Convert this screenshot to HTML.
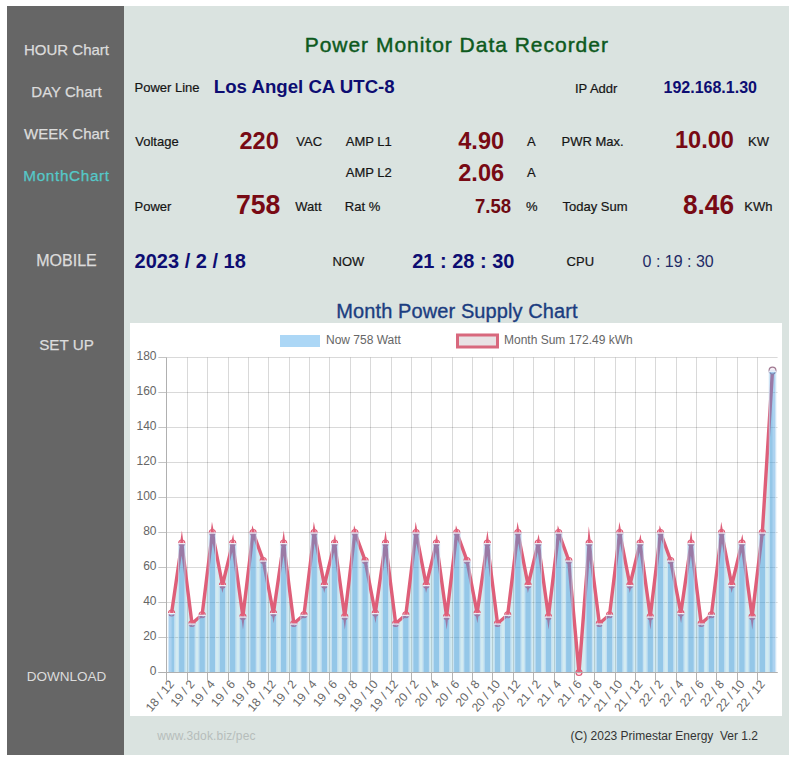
<!DOCTYPE html>
<html><head><meta charset="utf-8"><title>Power Monitor Data Recorder</title>
<style>
html,body{margin:0;padding:0;background:#fff;}
body{width:794px;height:762px;position:relative;overflow:hidden;font-family:"Liberation Sans", sans-serif;}
.t{position:absolute;white-space:pre;line-height:1;}
#side{position:absolute;left:7px;top:6px;width:117px;height:749px;background:#666;}
#main{position:absolute;left:124px;top:6px;width:665px;height:749px;background:#dae3e0;}
#side .t{}
</style></head><body>
<div id="side">
<span class="t" style="left:-240.5px;width:600px;text-align:center;top:35.80px;font-size:15px;color:#dcdcdc;-webkit-text-stroke:0.25px #dcdcdc;">HOUR Chart</span><span class="t" style="left:-240.5px;width:600px;text-align:center;top:78.40px;font-size:15px;color:#dcdcdc;-webkit-text-stroke:0.25px #dcdcdc;">DAY Chart</span><span class="t" style="left:-240.5px;width:600px;text-align:center;top:120.40px;font-size:15px;color:#dcdcdc;-webkit-text-stroke:0.25px #dcdcdc;">WEEK Chart</span><span class="t" style="left:-240.5px;width:600px;text-align:center;top:161.85px;font-size:15.3px;color:#55c9c9;letter-spacing:0.65px;-webkit-text-stroke:0.25px #55c9c9;">MonthChart</span><span class="t" style="left:-240.5px;width:600px;text-align:center;top:246.66px;font-size:16px;color:#dcdcdc;-webkit-text-stroke:0.25px #dcdcdc;">MOBILE</span><span class="t" style="left:-240.5px;width:600px;text-align:center;top:330.63px;font-size:15.2px;color:#dcdcdc;letter-spacing:0.0px;-webkit-text-stroke:0.25px #dcdcdc;">SET UP</span><span class="t" style="left:-240.5px;width:600px;text-align:center;top:663.57px;font-size:13.5px;color:#dcdcdc;">DOWNLOAD</span>
</div>
<div id="main">
<span class="t" style="left:32.8px;width:600px;text-align:center;top:28.32px;font-size:21px;color:#0d5a1d;letter-spacing:0.98px;-webkit-text-stroke:0.45px #0d5a1d;">Power Monitor Data Recorder</span><span class="t" style="left:10.5px;top:75.20px;font-size:13px;color:#151515;-webkit-text-stroke:0.2px #151515;">Power Line</span><span class="t" style="left:89.8px;top:71.81px;font-size:18.65px;color:#0d0d72;font-weight:bold;">Los Angel CA UTC-8</span><span class="t" style="left:451.0px;top:76.20px;font-size:13px;color:#151515;-webkit-text-stroke:0.2px #151515;">IP Addr</span><span class="t" style="left:539.5px;top:74.16px;font-size:16px;color:#0d0d72;font-weight:bold;">192.168.1.30</span><span class="t" style="left:11.3px;top:129.10px;font-size:13px;color:#151515;-webkit-text-stroke:0.2px #151515;">Voltage</span><span class="t" style="left:115.5px;top:123.51px;font-size:23.5px;color:#780a14;font-weight:bold;">220</span><span class="t" style="left:172.3px;top:129.10px;font-size:13px;color:#151515;-webkit-text-stroke:0.2px #151515;">VAC</span><span class="t" style="left:221.8px;top:129.10px;font-size:13px;color:#151515;-webkit-text-stroke:0.2px #151515;">AMP L1</span><span class="t" style="left:334.3px;top:123.51px;font-size:23.5px;color:#780a14;font-weight:bold;">4.90</span><span class="t" style="left:403.0px;top:129.10px;font-size:13px;color:#151515;-webkit-text-stroke:0.2px #151515;">A</span><span class="t" style="left:437.5px;top:129.00px;font-size:13px;color:#151515;-webkit-text-stroke:0.2px #151515;">PWR Max.</span><span class="t" style="left:551.0px;top:123.11px;font-size:23.5px;color:#780a14;font-weight:bold;">10.00</span><span class="t" style="left:624.0px;top:129.10px;font-size:13px;color:#151515;-webkit-text-stroke:0.2px #151515;">KW</span><span class="t" style="left:221.8px;top:160.20px;font-size:13px;color:#151515;-webkit-text-stroke:0.2px #151515;">AMP L2</span><span class="t" style="left:334.3px;top:156.21px;font-size:23.5px;color:#780a14;font-weight:bold;">2.06</span><span class="t" style="left:403.0px;top:160.20px;font-size:13px;color:#151515;-webkit-text-stroke:0.2px #151515;">A</span><span class="t" style="left:10.5px;top:193.50px;font-size:13px;color:#151515;-webkit-text-stroke:0.2px #151515;">Power</span><span class="t" style="left:112.0px;top:185.30px;font-size:28px;color:#780a14;font-weight:bold;transform:scaleX(0.95);transform-origin:0 0;">758</span><span class="t" style="left:171.3px;top:193.50px;font-size:13px;color:#151515;-webkit-text-stroke:0.2px #151515;">Watt</span><span class="t" style="left:220.8px;top:193.50px;font-size:13px;color:#151515;-webkit-text-stroke:0.2px #151515;">Rat %</span><span class="t" style="left:351.2px;top:190.79px;font-size:19.5px;color:#6e0a12;font-weight:bold;transform:scaleX(0.95);transform-origin:0 0;">7.58</span><span class="t" style="left:402.0px;top:193.50px;font-size:13px;color:#151515;-webkit-text-stroke:0.2px #151515;">%</span><span class="t" style="left:438.5px;top:193.70px;font-size:13px;color:#151515;-webkit-text-stroke:0.2px #151515;">Today Sum</span><span class="t" style="left:559.3px;top:185.30px;font-size:28px;color:#780a14;font-weight:bold;transform:scaleX(0.935);transform-origin:0 0;">8.46</span><span class="t" style="left:620.3px;top:193.50px;font-size:13px;color:#151515;-webkit-text-stroke:0.2px #151515;">KWh</span><span class="t" style="left:10.6px;top:244.77px;font-size:20px;color:#0d0d72;font-weight:bold;">2023 / 2 / 18</span><span class="t" style="left:208.5px;top:248.80px;font-size:13px;color:#151515;-webkit-text-stroke:0.2px #151515;">NOW</span><span class="t" style="left:288.2px;top:245.07px;font-size:20px;color:#0d0d72;font-weight:bold;">21 : 28 : 30</span><span class="t" style="left:442.6px;top:248.90px;font-size:13px;color:#151515;-webkit-text-stroke:0.2px #151515;">CPU</span><span class="t" style="left:518.6px;top:247.76px;font-size:16px;color:#1f2b66;">0 : 19 : 30</span><span class="t" style="left:33.0px;width:600px;text-align:center;top:294.97px;font-size:20px;color:#1b3d80;letter-spacing:0.1px;-webkit-text-stroke:0.35px #1b3d80;">Month Power Supply Chart</span><span class="t" style="left:33.2px;top:723.84px;font-size:12px;color:#b6bdbb;letter-spacing:0.15px;">www.3dok.biz/pec</span><span class="t" style="left:446.6px;top:724.14px;font-size:12px;color:#333;">(C) 2023 Primestar Energy&nbsp; Ver 1.2</span>
<svg width="652" height="393" viewBox="0 0 652 393" style="position:absolute;left:6px;top:317px"><rect width="652" height="393" fill="#fff"/><line x1="28.5" y1="349.50" x2="647.6" y2="349.50" stroke="#c8c8c8" stroke-width="1"/><line x1="28.5" y1="314.50" x2="647.6" y2="314.50" stroke="rgba(0,0,0,0.15)" stroke-width="1"/><line x1="28.5" y1="279.50" x2="647.6" y2="279.50" stroke="rgba(0,0,0,0.15)" stroke-width="1"/><line x1="28.5" y1="244.50" x2="647.6" y2="244.50" stroke="rgba(0,0,0,0.15)" stroke-width="1"/><line x1="28.5" y1="209.50" x2="647.6" y2="209.50" stroke="rgba(0,0,0,0.15)" stroke-width="1"/><line x1="28.5" y1="174.50" x2="647.6" y2="174.50" stroke="rgba(0,0,0,0.15)" stroke-width="1"/><line x1="28.5" y1="139.50" x2="647.6" y2="139.50" stroke="rgba(0,0,0,0.15)" stroke-width="1"/><line x1="28.5" y1="104.50" x2="647.6" y2="104.50" stroke="rgba(0,0,0,0.15)" stroke-width="1"/><line x1="28.5" y1="69.50" x2="647.6" y2="69.50" stroke="rgba(0,0,0,0.15)" stroke-width="1"/><line x1="28.5" y1="34.50" x2="647.6" y2="34.50" stroke="rgba(0,0,0,0.15)" stroke-width="1"/><line x1="36.50" y1="34.5" x2="36.50" y2="357.5" stroke="#c8c8c8" stroke-width="1"/><line x1="57.50" y1="34.5" x2="57.50" y2="357.5" stroke="rgba(0,0,0,0.15)" stroke-width="1"/><line x1="77.50" y1="34.5" x2="77.50" y2="357.5" stroke="rgba(0,0,0,0.15)" stroke-width="1"/><line x1="98.50" y1="34.5" x2="98.50" y2="357.5" stroke="rgba(0,0,0,0.15)" stroke-width="1"/><line x1="118.50" y1="34.5" x2="118.50" y2="357.5" stroke="rgba(0,0,0,0.15)" stroke-width="1"/><line x1="138.50" y1="34.5" x2="138.50" y2="357.5" stroke="rgba(0,0,0,0.15)" stroke-width="1"/><line x1="159.50" y1="34.5" x2="159.50" y2="357.5" stroke="rgba(0,0,0,0.15)" stroke-width="1"/><line x1="179.50" y1="34.5" x2="179.50" y2="357.5" stroke="rgba(0,0,0,0.15)" stroke-width="1"/><line x1="199.50" y1="34.5" x2="199.50" y2="357.5" stroke="rgba(0,0,0,0.15)" stroke-width="1"/><line x1="220.50" y1="34.5" x2="220.50" y2="357.5" stroke="rgba(0,0,0,0.15)" stroke-width="1"/><line x1="240.50" y1="34.5" x2="240.50" y2="357.5" stroke="rgba(0,0,0,0.15)" stroke-width="1"/><line x1="261.50" y1="34.5" x2="261.50" y2="357.5" stroke="rgba(0,0,0,0.15)" stroke-width="1"/><line x1="281.50" y1="34.5" x2="281.50" y2="357.5" stroke="rgba(0,0,0,0.15)" stroke-width="1"/><line x1="301.50" y1="34.5" x2="301.50" y2="357.5" stroke="rgba(0,0,0,0.15)" stroke-width="1"/><line x1="322.50" y1="34.5" x2="322.50" y2="357.5" stroke="rgba(0,0,0,0.15)" stroke-width="1"/><line x1="342.50" y1="34.5" x2="342.50" y2="357.5" stroke="rgba(0,0,0,0.15)" stroke-width="1"/><line x1="362.50" y1="34.5" x2="362.50" y2="357.5" stroke="rgba(0,0,0,0.15)" stroke-width="1"/><line x1="383.50" y1="34.5" x2="383.50" y2="357.5" stroke="rgba(0,0,0,0.15)" stroke-width="1"/><line x1="403.50" y1="34.5" x2="403.50" y2="357.5" stroke="rgba(0,0,0,0.15)" stroke-width="1"/><line x1="424.50" y1="34.5" x2="424.50" y2="357.5" stroke="rgba(0,0,0,0.15)" stroke-width="1"/><line x1="444.50" y1="34.5" x2="444.50" y2="357.5" stroke="rgba(0,0,0,0.15)" stroke-width="1"/><line x1="464.50" y1="34.5" x2="464.50" y2="357.5" stroke="rgba(0,0,0,0.15)" stroke-width="1"/><line x1="485.50" y1="34.5" x2="485.50" y2="357.5" stroke="rgba(0,0,0,0.15)" stroke-width="1"/><line x1="505.50" y1="34.5" x2="505.50" y2="357.5" stroke="rgba(0,0,0,0.15)" stroke-width="1"/><line x1="525.50" y1="34.5" x2="525.50" y2="357.5" stroke="rgba(0,0,0,0.15)" stroke-width="1"/><line x1="546.50" y1="34.5" x2="546.50" y2="357.5" stroke="rgba(0,0,0,0.15)" stroke-width="1"/><line x1="566.50" y1="34.5" x2="566.50" y2="357.5" stroke="rgba(0,0,0,0.15)" stroke-width="1"/><line x1="586.50" y1="34.5" x2="586.50" y2="357.5" stroke="rgba(0,0,0,0.15)" stroke-width="1"/><line x1="607.50" y1="34.5" x2="607.50" y2="357.5" stroke="rgba(0,0,0,0.15)" stroke-width="1"/><line x1="627.50" y1="34.5" x2="627.50" y2="357.5" stroke="rgba(0,0,0,0.15)" stroke-width="1"/><line x1="36.50" y1="349.5" x2="36.50" y2="357.5" stroke="#b4b4b4" stroke-width="1"/><line x1="57.50" y1="349.5" x2="57.50" y2="357.5" stroke="#b4b4b4" stroke-width="1"/><line x1="77.50" y1="349.5" x2="77.50" y2="357.5" stroke="#b4b4b4" stroke-width="1"/><line x1="98.50" y1="349.5" x2="98.50" y2="357.5" stroke="#b4b4b4" stroke-width="1"/><line x1="118.50" y1="349.5" x2="118.50" y2="357.5" stroke="#b4b4b4" stroke-width="1"/><line x1="138.50" y1="349.5" x2="138.50" y2="357.5" stroke="#b4b4b4" stroke-width="1"/><line x1="159.50" y1="349.5" x2="159.50" y2="357.5" stroke="#b4b4b4" stroke-width="1"/><line x1="179.50" y1="349.5" x2="179.50" y2="357.5" stroke="#b4b4b4" stroke-width="1"/><line x1="199.50" y1="349.5" x2="199.50" y2="357.5" stroke="#b4b4b4" stroke-width="1"/><line x1="220.50" y1="349.5" x2="220.50" y2="357.5" stroke="#b4b4b4" stroke-width="1"/><line x1="240.50" y1="349.5" x2="240.50" y2="357.5" stroke="#b4b4b4" stroke-width="1"/><line x1="261.50" y1="349.5" x2="261.50" y2="357.5" stroke="#b4b4b4" stroke-width="1"/><line x1="281.50" y1="349.5" x2="281.50" y2="357.5" stroke="#b4b4b4" stroke-width="1"/><line x1="301.50" y1="349.5" x2="301.50" y2="357.5" stroke="#b4b4b4" stroke-width="1"/><line x1="322.50" y1="349.5" x2="322.50" y2="357.5" stroke="#b4b4b4" stroke-width="1"/><line x1="342.50" y1="349.5" x2="342.50" y2="357.5" stroke="#b4b4b4" stroke-width="1"/><line x1="362.50" y1="349.5" x2="362.50" y2="357.5" stroke="#b4b4b4" stroke-width="1"/><line x1="383.50" y1="349.5" x2="383.50" y2="357.5" stroke="#b4b4b4" stroke-width="1"/><line x1="403.50" y1="349.5" x2="403.50" y2="357.5" stroke="#b4b4b4" stroke-width="1"/><line x1="424.50" y1="349.5" x2="424.50" y2="357.5" stroke="#b4b4b4" stroke-width="1"/><line x1="444.50" y1="349.5" x2="444.50" y2="357.5" stroke="#b4b4b4" stroke-width="1"/><line x1="464.50" y1="349.5" x2="464.50" y2="357.5" stroke="#b4b4b4" stroke-width="1"/><line x1="485.50" y1="349.5" x2="485.50" y2="357.5" stroke="#b4b4b4" stroke-width="1"/><line x1="505.50" y1="349.5" x2="505.50" y2="357.5" stroke="#b4b4b4" stroke-width="1"/><line x1="525.50" y1="349.5" x2="525.50" y2="357.5" stroke="#b4b4b4" stroke-width="1"/><line x1="546.50" y1="349.5" x2="546.50" y2="357.5" stroke="#b4b4b4" stroke-width="1"/><line x1="566.50" y1="349.5" x2="566.50" y2="357.5" stroke="#b4b4b4" stroke-width="1"/><line x1="586.50" y1="349.5" x2="586.50" y2="357.5" stroke="#b4b4b4" stroke-width="1"/><line x1="607.50" y1="349.5" x2="607.50" y2="357.5" stroke="#b4b4b4" stroke-width="1"/><line x1="627.50" y1="349.5" x2="627.50" y2="357.5" stroke="#b4b4b4" stroke-width="1"/><line x1="28.5" y1="349.50" x2="36.5" y2="349.50" stroke="#c4c4c4" stroke-width="1"/><line x1="28.5" y1="314.50" x2="36.5" y2="314.50" stroke="#c4c4c4" stroke-width="1"/><line x1="28.5" y1="279.50" x2="36.5" y2="279.50" stroke="#c4c4c4" stroke-width="1"/><line x1="28.5" y1="244.50" x2="36.5" y2="244.50" stroke="#c4c4c4" stroke-width="1"/><line x1="28.5" y1="209.50" x2="36.5" y2="209.50" stroke="#c4c4c4" stroke-width="1"/><line x1="28.5" y1="174.50" x2="36.5" y2="174.50" stroke="#c4c4c4" stroke-width="1"/><line x1="28.5" y1="139.50" x2="36.5" y2="139.50" stroke="#c4c4c4" stroke-width="1"/><line x1="28.5" y1="104.50" x2="36.5" y2="104.50" stroke="#c4c4c4" stroke-width="1"/><line x1="28.5" y1="69.50" x2="36.5" y2="69.50" stroke="#c4c4c4" stroke-width="1"/><line x1="28.5" y1="34.50" x2="36.5" y2="34.50" stroke="#c4c4c4" stroke-width="1"/><text x="26.5" y="351.90" text-anchor="end" font-family='"Liberation Sans", sans-serif' font-size="12" fill="#666">0</text><text x="26.5" y="316.90" text-anchor="end" font-family='"Liberation Sans", sans-serif' font-size="12" fill="#666">20</text><text x="26.5" y="281.90" text-anchor="end" font-family='"Liberation Sans", sans-serif' font-size="12" fill="#666">40</text><text x="26.5" y="246.90" text-anchor="end" font-family='"Liberation Sans", sans-serif' font-size="12" fill="#666">60</text><text x="26.5" y="211.90" text-anchor="end" font-family='"Liberation Sans", sans-serif' font-size="12" fill="#666">80</text><text x="26.5" y="176.90" text-anchor="end" font-family='"Liberation Sans", sans-serif' font-size="12" fill="#666">100</text><text x="26.5" y="141.90" text-anchor="end" font-family='"Liberation Sans", sans-serif' font-size="12" fill="#666">120</text><text x="26.5" y="106.90" text-anchor="end" font-family='"Liberation Sans", sans-serif' font-size="12" fill="#666">140</text><text x="26.5" y="71.90" text-anchor="end" font-family='"Liberation Sans", sans-serif' font-size="12" fill="#666">160</text><text x="26.5" y="36.90" text-anchor="end" font-family='"Liberation Sans", sans-serif' font-size="12" fill="#666">180</text><text transform="translate(41.59,358.70) rotate(-50)" x="0" y="4.2" text-anchor="end" font-family='"Liberation Sans", sans-serif' font-size="12" fill="#666">18 / 12</text><text transform="translate(61.96,358.70) rotate(-50)" x="0" y="4.2" text-anchor="end" font-family='"Liberation Sans", sans-serif' font-size="12" fill="#666">19 / 2</text><text transform="translate(82.33,358.70) rotate(-50)" x="0" y="4.2" text-anchor="end" font-family='"Liberation Sans", sans-serif' font-size="12" fill="#666">19 / 4</text><text transform="translate(102.70,358.70) rotate(-50)" x="0" y="4.2" text-anchor="end" font-family='"Liberation Sans", sans-serif' font-size="12" fill="#666">19 / 6</text><text transform="translate(123.07,358.70) rotate(-50)" x="0" y="4.2" text-anchor="end" font-family='"Liberation Sans", sans-serif' font-size="12" fill="#666">19 / 8</text><text transform="translate(143.44,358.70) rotate(-50)" x="0" y="4.2" text-anchor="end" font-family='"Liberation Sans", sans-serif' font-size="12" fill="#666">18 / 12</text><text transform="translate(163.81,358.70) rotate(-50)" x="0" y="4.2" text-anchor="end" font-family='"Liberation Sans", sans-serif' font-size="12" fill="#666">19 / 2</text><text transform="translate(184.18,358.70) rotate(-50)" x="0" y="4.2" text-anchor="end" font-family='"Liberation Sans", sans-serif' font-size="12" fill="#666">19 / 4</text><text transform="translate(204.55,358.70) rotate(-50)" x="0" y="4.2" text-anchor="end" font-family='"Liberation Sans", sans-serif' font-size="12" fill="#666">19 / 6</text><text transform="translate(224.92,358.70) rotate(-50)" x="0" y="4.2" text-anchor="end" font-family='"Liberation Sans", sans-serif' font-size="12" fill="#666">19 / 8</text><text transform="translate(245.29,358.70) rotate(-50)" x="0" y="4.2" text-anchor="end" font-family='"Liberation Sans", sans-serif' font-size="12" fill="#666">19 / 10</text><text transform="translate(265.66,358.70) rotate(-50)" x="0" y="4.2" text-anchor="end" font-family='"Liberation Sans", sans-serif' font-size="12" fill="#666">19 / 12</text><text transform="translate(286.03,358.70) rotate(-50)" x="0" y="4.2" text-anchor="end" font-family='"Liberation Sans", sans-serif' font-size="12" fill="#666">20 / 2</text><text transform="translate(306.40,358.70) rotate(-50)" x="0" y="4.2" text-anchor="end" font-family='"Liberation Sans", sans-serif' font-size="12" fill="#666">20 / 4</text><text transform="translate(326.77,358.70) rotate(-50)" x="0" y="4.2" text-anchor="end" font-family='"Liberation Sans", sans-serif' font-size="12" fill="#666">20 / 6</text><text transform="translate(347.14,358.70) rotate(-50)" x="0" y="4.2" text-anchor="end" font-family='"Liberation Sans", sans-serif' font-size="12" fill="#666">20 / 8</text><text transform="translate(367.51,358.70) rotate(-50)" x="0" y="4.2" text-anchor="end" font-family='"Liberation Sans", sans-serif' font-size="12" fill="#666">20 / 10</text><text transform="translate(387.88,358.70) rotate(-50)" x="0" y="4.2" text-anchor="end" font-family='"Liberation Sans", sans-serif' font-size="12" fill="#666">20 / 12</text><text transform="translate(408.25,358.70) rotate(-50)" x="0" y="4.2" text-anchor="end" font-family='"Liberation Sans", sans-serif' font-size="12" fill="#666">21 / 2</text><text transform="translate(428.62,358.70) rotate(-50)" x="0" y="4.2" text-anchor="end" font-family='"Liberation Sans", sans-serif' font-size="12" fill="#666">21 / 4</text><text transform="translate(448.99,358.70) rotate(-50)" x="0" y="4.2" text-anchor="end" font-family='"Liberation Sans", sans-serif' font-size="12" fill="#666">21 / 6</text><text transform="translate(469.36,358.70) rotate(-50)" x="0" y="4.2" text-anchor="end" font-family='"Liberation Sans", sans-serif' font-size="12" fill="#666">21 / 8</text><text transform="translate(489.73,358.70) rotate(-50)" x="0" y="4.2" text-anchor="end" font-family='"Liberation Sans", sans-serif' font-size="12" fill="#666">21 / 10</text><text transform="translate(510.10,358.70) rotate(-50)" x="0" y="4.2" text-anchor="end" font-family='"Liberation Sans", sans-serif' font-size="12" fill="#666">21 / 12</text><text transform="translate(530.47,358.70) rotate(-50)" x="0" y="4.2" text-anchor="end" font-family='"Liberation Sans", sans-serif' font-size="12" fill="#666">22 / 2</text><text transform="translate(550.84,358.70) rotate(-50)" x="0" y="4.2" text-anchor="end" font-family='"Liberation Sans", sans-serif' font-size="12" fill="#666">22 / 4</text><text transform="translate(571.21,358.70) rotate(-50)" x="0" y="4.2" text-anchor="end" font-family='"Liberation Sans", sans-serif' font-size="12" fill="#666">22 / 6</text><text transform="translate(591.58,358.70) rotate(-50)" x="0" y="4.2" text-anchor="end" font-family='"Liberation Sans", sans-serif' font-size="12" fill="#666">22 / 8</text><text transform="translate(611.95,358.70) rotate(-50)" x="0" y="4.2" text-anchor="end" font-family='"Liberation Sans", sans-serif' font-size="12" fill="#666">22 / 10</text><text transform="translate(632.32,358.70) rotate(-50)" x="0" y="4.2" text-anchor="end" font-family='"Liberation Sans", sans-serif' font-size="12" fill="#666">22 / 12</text><polygon points="41.59,349.50 41.59,290.00 51.78,220.00 61.96,300.50 72.15,291.75 82.33,209.50 92.52,262.00 102.70,220.00 112.89,293.50 123.07,209.50 133.26,237.50 143.44,290.00 153.63,220.00 163.81,300.50 174.00,291.75 184.18,209.50 194.37,262.00 204.55,220.00 214.74,293.50 224.92,209.50 235.11,237.50 245.29,290.00 255.48,220.00 265.66,300.50 275.85,291.75 286.03,209.50 296.22,262.00 306.40,220.00 316.59,293.50 326.77,209.50 336.96,237.50 347.14,290.00 357.33,220.00 367.51,300.50 377.70,291.75 387.88,209.50 398.07,262.00 408.25,220.00 418.44,293.50 428.62,209.50 438.81,237.50 448.99,349.50 459.18,220.00 469.36,300.50 479.55,291.75 489.73,209.50 499.92,262.00 510.10,220.00 520.29,293.50 530.47,209.50 540.66,237.50 550.84,290.00 561.03,220.00 571.21,300.50 581.40,291.75 591.58,209.50 601.77,262.00 611.95,220.00 622.14,293.50 632.32,209.50 642.51,47.62 642.51,349.50" fill="rgba(35,155,185,0.2)"/><polyline points="41.59,290.00 51.78,220.00 61.96,300.50 72.15,291.75 82.33,209.50 92.52,262.00 102.70,220.00 112.89,293.50 123.07,209.50 133.26,237.50 143.44,290.00 153.63,220.00 163.81,300.50 174.00,291.75 184.18,209.50 194.37,262.00 204.55,220.00 214.74,293.50 224.92,209.50 235.11,237.50 245.29,290.00 255.48,220.00 265.66,300.50 275.85,291.75 286.03,209.50 296.22,262.00 306.40,220.00 316.59,293.50 326.77,209.50 336.96,237.50 347.14,290.00 357.33,220.00 367.51,300.50 377.70,291.75 387.88,209.50 398.07,262.00 408.25,220.00 418.44,293.50 428.62,209.50 438.81,237.50 448.99,349.50 459.18,220.00 469.36,300.50 479.55,291.75 489.73,209.50 499.92,262.00 510.10,220.00 520.29,293.50 530.47,209.50 540.66,237.50 550.84,290.00 561.03,220.00 571.21,300.50 581.40,291.75 591.58,209.50 601.77,262.00 611.95,220.00 622.14,293.50 632.32,209.50 642.51,47.62" fill="none" stroke="#de5f79" stroke-width="3.4" stroke-linejoin="miter" stroke-miterlimit="10"/><circle cx="41.59" cy="290.00" r="3" fill="rgba(255,99,132,0.2)" stroke="#de5f79" stroke-width="1.2"/><circle cx="51.78" cy="220.00" r="3" fill="rgba(255,99,132,0.2)" stroke="#de5f79" stroke-width="1.2"/><circle cx="61.96" cy="300.50" r="3" fill="rgba(255,99,132,0.2)" stroke="#de5f79" stroke-width="1.2"/><circle cx="72.15" cy="291.75" r="3" fill="rgba(255,99,132,0.2)" stroke="#de5f79" stroke-width="1.2"/><circle cx="82.33" cy="209.50" r="3" fill="rgba(255,99,132,0.2)" stroke="#de5f79" stroke-width="1.2"/><circle cx="92.52" cy="262.00" r="3" fill="rgba(255,99,132,0.2)" stroke="#de5f79" stroke-width="1.2"/><circle cx="102.70" cy="220.00" r="3" fill="rgba(255,99,132,0.2)" stroke="#de5f79" stroke-width="1.2"/><circle cx="112.89" cy="293.50" r="3" fill="rgba(255,99,132,0.2)" stroke="#de5f79" stroke-width="1.2"/><circle cx="123.07" cy="209.50" r="3" fill="rgba(255,99,132,0.2)" stroke="#de5f79" stroke-width="1.2"/><circle cx="133.26" cy="237.50" r="3" fill="rgba(255,99,132,0.2)" stroke="#de5f79" stroke-width="1.2"/><circle cx="143.44" cy="290.00" r="3" fill="rgba(255,99,132,0.2)" stroke="#de5f79" stroke-width="1.2"/><circle cx="153.63" cy="220.00" r="3" fill="rgba(255,99,132,0.2)" stroke="#de5f79" stroke-width="1.2"/><circle cx="163.81" cy="300.50" r="3" fill="rgba(255,99,132,0.2)" stroke="#de5f79" stroke-width="1.2"/><circle cx="174.00" cy="291.75" r="3" fill="rgba(255,99,132,0.2)" stroke="#de5f79" stroke-width="1.2"/><circle cx="184.18" cy="209.50" r="3" fill="rgba(255,99,132,0.2)" stroke="#de5f79" stroke-width="1.2"/><circle cx="194.37" cy="262.00" r="3" fill="rgba(255,99,132,0.2)" stroke="#de5f79" stroke-width="1.2"/><circle cx="204.55" cy="220.00" r="3" fill="rgba(255,99,132,0.2)" stroke="#de5f79" stroke-width="1.2"/><circle cx="214.74" cy="293.50" r="3" fill="rgba(255,99,132,0.2)" stroke="#de5f79" stroke-width="1.2"/><circle cx="224.92" cy="209.50" r="3" fill="rgba(255,99,132,0.2)" stroke="#de5f79" stroke-width="1.2"/><circle cx="235.11" cy="237.50" r="3" fill="rgba(255,99,132,0.2)" stroke="#de5f79" stroke-width="1.2"/><circle cx="245.29" cy="290.00" r="3" fill="rgba(255,99,132,0.2)" stroke="#de5f79" stroke-width="1.2"/><circle cx="255.48" cy="220.00" r="3" fill="rgba(255,99,132,0.2)" stroke="#de5f79" stroke-width="1.2"/><circle cx="265.66" cy="300.50" r="3" fill="rgba(255,99,132,0.2)" stroke="#de5f79" stroke-width="1.2"/><circle cx="275.85" cy="291.75" r="3" fill="rgba(255,99,132,0.2)" stroke="#de5f79" stroke-width="1.2"/><circle cx="286.03" cy="209.50" r="3" fill="rgba(255,99,132,0.2)" stroke="#de5f79" stroke-width="1.2"/><circle cx="296.22" cy="262.00" r="3" fill="rgba(255,99,132,0.2)" stroke="#de5f79" stroke-width="1.2"/><circle cx="306.40" cy="220.00" r="3" fill="rgba(255,99,132,0.2)" stroke="#de5f79" stroke-width="1.2"/><circle cx="316.59" cy="293.50" r="3" fill="rgba(255,99,132,0.2)" stroke="#de5f79" stroke-width="1.2"/><circle cx="326.77" cy="209.50" r="3" fill="rgba(255,99,132,0.2)" stroke="#de5f79" stroke-width="1.2"/><circle cx="336.96" cy="237.50" r="3" fill="rgba(255,99,132,0.2)" stroke="#de5f79" stroke-width="1.2"/><circle cx="347.14" cy="290.00" r="3" fill="rgba(255,99,132,0.2)" stroke="#de5f79" stroke-width="1.2"/><circle cx="357.33" cy="220.00" r="3" fill="rgba(255,99,132,0.2)" stroke="#de5f79" stroke-width="1.2"/><circle cx="367.51" cy="300.50" r="3" fill="rgba(255,99,132,0.2)" stroke="#de5f79" stroke-width="1.2"/><circle cx="377.70" cy="291.75" r="3" fill="rgba(255,99,132,0.2)" stroke="#de5f79" stroke-width="1.2"/><circle cx="387.88" cy="209.50" r="3" fill="rgba(255,99,132,0.2)" stroke="#de5f79" stroke-width="1.2"/><circle cx="398.07" cy="262.00" r="3" fill="rgba(255,99,132,0.2)" stroke="#de5f79" stroke-width="1.2"/><circle cx="408.25" cy="220.00" r="3" fill="rgba(255,99,132,0.2)" stroke="#de5f79" stroke-width="1.2"/><circle cx="418.44" cy="293.50" r="3" fill="rgba(255,99,132,0.2)" stroke="#de5f79" stroke-width="1.2"/><circle cx="428.62" cy="209.50" r="3" fill="rgba(255,99,132,0.2)" stroke="#de5f79" stroke-width="1.2"/><circle cx="438.81" cy="237.50" r="3" fill="rgba(255,99,132,0.2)" stroke="#de5f79" stroke-width="1.2"/><circle cx="448.99" cy="349.50" r="3" fill="rgba(255,99,132,0.2)" stroke="#de5f79" stroke-width="1.2"/><circle cx="459.18" cy="220.00" r="3" fill="rgba(255,99,132,0.2)" stroke="#de5f79" stroke-width="1.2"/><circle cx="469.36" cy="300.50" r="3" fill="rgba(255,99,132,0.2)" stroke="#de5f79" stroke-width="1.2"/><circle cx="479.55" cy="291.75" r="3" fill="rgba(255,99,132,0.2)" stroke="#de5f79" stroke-width="1.2"/><circle cx="489.73" cy="209.50" r="3" fill="rgba(255,99,132,0.2)" stroke="#de5f79" stroke-width="1.2"/><circle cx="499.92" cy="262.00" r="3" fill="rgba(255,99,132,0.2)" stroke="#de5f79" stroke-width="1.2"/><circle cx="510.10" cy="220.00" r="3" fill="rgba(255,99,132,0.2)" stroke="#de5f79" stroke-width="1.2"/><circle cx="520.29" cy="293.50" r="3" fill="rgba(255,99,132,0.2)" stroke="#de5f79" stroke-width="1.2"/><circle cx="530.47" cy="209.50" r="3" fill="rgba(255,99,132,0.2)" stroke="#de5f79" stroke-width="1.2"/><circle cx="540.66" cy="237.50" r="3" fill="rgba(255,99,132,0.2)" stroke="#de5f79" stroke-width="1.2"/><circle cx="550.84" cy="290.00" r="3" fill="rgba(255,99,132,0.2)" stroke="#de5f79" stroke-width="1.2"/><circle cx="561.03" cy="220.00" r="3" fill="rgba(255,99,132,0.2)" stroke="#de5f79" stroke-width="1.2"/><circle cx="571.21" cy="300.50" r="3" fill="rgba(255,99,132,0.2)" stroke="#de5f79" stroke-width="1.2"/><circle cx="581.40" cy="291.75" r="3" fill="rgba(255,99,132,0.2)" stroke="#de5f79" stroke-width="1.2"/><circle cx="591.58" cy="209.50" r="3" fill="rgba(255,99,132,0.2)" stroke="#de5f79" stroke-width="1.2"/><circle cx="601.77" cy="262.00" r="3" fill="rgba(255,99,132,0.2)" stroke="#de5f79" stroke-width="1.2"/><circle cx="611.95" cy="220.00" r="3" fill="rgba(255,99,132,0.2)" stroke="#de5f79" stroke-width="1.2"/><circle cx="622.14" cy="293.50" r="3" fill="rgba(255,99,132,0.2)" stroke="#de5f79" stroke-width="1.2"/><circle cx="632.32" cy="209.50" r="3" fill="rgba(255,99,132,0.2)" stroke="#de5f79" stroke-width="1.2"/><circle cx="642.51" cy="47.62" r="3.4" fill="#f4eef6" stroke="#a07890" stroke-width="1.2"/><rect x="37.93" y="290.00" width="7.33" height="59.50" fill="rgba(70,155,222,0.45)"/><path d="M38.43,349.50V290.60M44.76,290.60V349.50" fill="none" stroke="rgba(255,255,255,0.5)" stroke-width="1"/><path d="M37.93,290.60H45.26" fill="none" stroke="rgba(255,255,255,0.85)" stroke-width="1.2"/><rect x="48.11" y="220.00" width="7.33" height="129.50" fill="rgba(70,155,222,0.45)"/><path d="M48.61,349.50V220.60M54.94,220.60V349.50" fill="none" stroke="rgba(255,255,255,0.5)" stroke-width="1"/><path d="M48.11,220.60H55.44" fill="none" stroke="rgba(255,255,255,0.85)" stroke-width="1.2"/><rect x="58.30" y="300.50" width="7.33" height="49.00" fill="rgba(70,155,222,0.45)"/><path d="M58.80,349.50V301.10M65.13,301.10V349.50" fill="none" stroke="rgba(255,255,255,0.5)" stroke-width="1"/><path d="M58.30,301.10H65.63" fill="none" stroke="rgba(255,255,255,0.85)" stroke-width="1.2"/><rect x="68.48" y="291.75" width="7.33" height="57.75" fill="rgba(70,155,222,0.45)"/><path d="M68.98,349.50V292.35M75.31,292.35V349.50" fill="none" stroke="rgba(255,255,255,0.5)" stroke-width="1"/><path d="M68.48,292.35H75.81" fill="none" stroke="rgba(255,255,255,0.85)" stroke-width="1.2"/><rect x="78.67" y="209.50" width="7.33" height="140.00" fill="rgba(70,155,222,0.45)"/><path d="M79.17,349.50V210.10M85.50,210.10V349.50" fill="none" stroke="rgba(255,255,255,0.5)" stroke-width="1"/><path d="M78.67,210.10H86.00" fill="none" stroke="rgba(255,255,255,0.85)" stroke-width="1.2"/><rect x="88.85" y="262.00" width="7.33" height="87.50" fill="rgba(70,155,222,0.45)"/><path d="M89.35,349.50V262.60M95.68,262.60V349.50" fill="none" stroke="rgba(255,255,255,0.5)" stroke-width="1"/><path d="M88.85,262.60H96.18" fill="none" stroke="rgba(255,255,255,0.85)" stroke-width="1.2"/><rect x="99.04" y="220.00" width="7.33" height="129.50" fill="rgba(70,155,222,0.45)"/><path d="M99.54,349.50V220.60M105.87,220.60V349.50" fill="none" stroke="rgba(255,255,255,0.5)" stroke-width="1"/><path d="M99.04,220.60H106.37" fill="none" stroke="rgba(255,255,255,0.85)" stroke-width="1.2"/><rect x="109.22" y="293.50" width="7.33" height="56.00" fill="rgba(70,155,222,0.45)"/><path d="M109.72,349.50V294.10M116.05,294.10V349.50" fill="none" stroke="rgba(255,255,255,0.5)" stroke-width="1"/><path d="M109.22,294.10H116.55" fill="none" stroke="rgba(255,255,255,0.85)" stroke-width="1.2"/><rect x="119.41" y="209.50" width="7.33" height="140.00" fill="rgba(70,155,222,0.45)"/><path d="M119.91,349.50V210.10M126.24,210.10V349.50" fill="none" stroke="rgba(255,255,255,0.5)" stroke-width="1"/><path d="M119.41,210.10H126.74" fill="none" stroke="rgba(255,255,255,0.85)" stroke-width="1.2"/><rect x="129.59" y="237.50" width="7.33" height="112.00" fill="rgba(70,155,222,0.45)"/><path d="M130.09,349.50V238.10M136.42,238.10V349.50" fill="none" stroke="rgba(255,255,255,0.5)" stroke-width="1"/><path d="M129.59,238.10H136.92" fill="none" stroke="rgba(255,255,255,0.85)" stroke-width="1.2"/><rect x="139.78" y="290.00" width="7.33" height="59.50" fill="rgba(70,155,222,0.45)"/><path d="M140.28,349.50V290.60M146.61,290.60V349.50" fill="none" stroke="rgba(255,255,255,0.5)" stroke-width="1"/><path d="M139.78,290.60H147.11" fill="none" stroke="rgba(255,255,255,0.85)" stroke-width="1.2"/><rect x="149.96" y="220.00" width="7.33" height="129.50" fill="rgba(70,155,222,0.45)"/><path d="M150.46,349.50V220.60M156.79,220.60V349.50" fill="none" stroke="rgba(255,255,255,0.5)" stroke-width="1"/><path d="M149.96,220.60H157.29" fill="none" stroke="rgba(255,255,255,0.85)" stroke-width="1.2"/><rect x="160.15" y="300.50" width="7.33" height="49.00" fill="rgba(70,155,222,0.45)"/><path d="M160.65,349.50V301.10M166.98,301.10V349.50" fill="none" stroke="rgba(255,255,255,0.5)" stroke-width="1"/><path d="M160.15,301.10H167.48" fill="none" stroke="rgba(255,255,255,0.85)" stroke-width="1.2"/><rect x="170.33" y="291.75" width="7.33" height="57.75" fill="rgba(70,155,222,0.45)"/><path d="M170.83,349.50V292.35M177.16,292.35V349.50" fill="none" stroke="rgba(255,255,255,0.5)" stroke-width="1"/><path d="M170.33,292.35H177.66" fill="none" stroke="rgba(255,255,255,0.85)" stroke-width="1.2"/><rect x="180.52" y="209.50" width="7.33" height="140.00" fill="rgba(70,155,222,0.45)"/><path d="M181.02,349.50V210.10M187.35,210.10V349.50" fill="none" stroke="rgba(255,255,255,0.5)" stroke-width="1"/><path d="M180.52,210.10H187.85" fill="none" stroke="rgba(255,255,255,0.85)" stroke-width="1.2"/><rect x="190.70" y="262.00" width="7.33" height="87.50" fill="rgba(70,155,222,0.45)"/><path d="M191.20,349.50V262.60M197.53,262.60V349.50" fill="none" stroke="rgba(255,255,255,0.5)" stroke-width="1"/><path d="M190.70,262.60H198.03" fill="none" stroke="rgba(255,255,255,0.85)" stroke-width="1.2"/><rect x="200.89" y="220.00" width="7.33" height="129.50" fill="rgba(70,155,222,0.45)"/><path d="M201.39,349.50V220.60M207.72,220.60V349.50" fill="none" stroke="rgba(255,255,255,0.5)" stroke-width="1"/><path d="M200.89,220.60H208.22" fill="none" stroke="rgba(255,255,255,0.85)" stroke-width="1.2"/><rect x="211.07" y="293.50" width="7.33" height="56.00" fill="rgba(70,155,222,0.45)"/><path d="M211.57,349.50V294.10M217.90,294.10V349.50" fill="none" stroke="rgba(255,255,255,0.5)" stroke-width="1"/><path d="M211.07,294.10H218.40" fill="none" stroke="rgba(255,255,255,0.85)" stroke-width="1.2"/><rect x="221.26" y="209.50" width="7.33" height="140.00" fill="rgba(70,155,222,0.45)"/><path d="M221.76,349.50V210.10M228.09,210.10V349.50" fill="none" stroke="rgba(255,255,255,0.5)" stroke-width="1"/><path d="M221.26,210.10H228.59" fill="none" stroke="rgba(255,255,255,0.85)" stroke-width="1.2"/><rect x="231.44" y="237.50" width="7.33" height="112.00" fill="rgba(70,155,222,0.45)"/><path d="M231.94,349.50V238.10M238.27,238.10V349.50" fill="none" stroke="rgba(255,255,255,0.5)" stroke-width="1"/><path d="M231.44,238.10H238.77" fill="none" stroke="rgba(255,255,255,0.85)" stroke-width="1.2"/><rect x="241.63" y="290.00" width="7.33" height="59.50" fill="rgba(70,155,222,0.45)"/><path d="M242.13,349.50V290.60M248.46,290.60V349.50" fill="none" stroke="rgba(255,255,255,0.5)" stroke-width="1"/><path d="M241.63,290.60H248.96" fill="none" stroke="rgba(255,255,255,0.85)" stroke-width="1.2"/><rect x="251.81" y="220.00" width="7.33" height="129.50" fill="rgba(70,155,222,0.45)"/><path d="M252.31,349.50V220.60M258.64,220.60V349.50" fill="none" stroke="rgba(255,255,255,0.5)" stroke-width="1"/><path d="M251.81,220.60H259.14" fill="none" stroke="rgba(255,255,255,0.85)" stroke-width="1.2"/><rect x="262.00" y="300.50" width="7.33" height="49.00" fill="rgba(70,155,222,0.45)"/><path d="M262.50,349.50V301.10M268.83,301.10V349.50" fill="none" stroke="rgba(255,255,255,0.5)" stroke-width="1"/><path d="M262.00,301.10H269.33" fill="none" stroke="rgba(255,255,255,0.85)" stroke-width="1.2"/><rect x="272.18" y="291.75" width="7.33" height="57.75" fill="rgba(70,155,222,0.45)"/><path d="M272.68,349.50V292.35M279.01,292.35V349.50" fill="none" stroke="rgba(255,255,255,0.5)" stroke-width="1"/><path d="M272.18,292.35H279.51" fill="none" stroke="rgba(255,255,255,0.85)" stroke-width="1.2"/><rect x="282.37" y="209.50" width="7.33" height="140.00" fill="rgba(70,155,222,0.45)"/><path d="M282.87,349.50V210.10M289.20,210.10V349.50" fill="none" stroke="rgba(255,255,255,0.5)" stroke-width="1"/><path d="M282.37,210.10H289.70" fill="none" stroke="rgba(255,255,255,0.85)" stroke-width="1.2"/><rect x="292.55" y="262.00" width="7.33" height="87.50" fill="rgba(70,155,222,0.45)"/><path d="M293.05,349.50V262.60M299.38,262.60V349.50" fill="none" stroke="rgba(255,255,255,0.5)" stroke-width="1"/><path d="M292.55,262.60H299.88" fill="none" stroke="rgba(255,255,255,0.85)" stroke-width="1.2"/><rect x="302.74" y="220.00" width="7.33" height="129.50" fill="rgba(70,155,222,0.45)"/><path d="M303.24,349.50V220.60M309.57,220.60V349.50" fill="none" stroke="rgba(255,255,255,0.5)" stroke-width="1"/><path d="M302.74,220.60H310.07" fill="none" stroke="rgba(255,255,255,0.85)" stroke-width="1.2"/><rect x="312.92" y="293.50" width="7.33" height="56.00" fill="rgba(70,155,222,0.45)"/><path d="M313.42,349.50V294.10M319.75,294.10V349.50" fill="none" stroke="rgba(255,255,255,0.5)" stroke-width="1"/><path d="M312.92,294.10H320.25" fill="none" stroke="rgba(255,255,255,0.85)" stroke-width="1.2"/><rect x="323.11" y="209.50" width="7.33" height="140.00" fill="rgba(70,155,222,0.45)"/><path d="M323.61,349.50V210.10M329.94,210.10V349.50" fill="none" stroke="rgba(255,255,255,0.5)" stroke-width="1"/><path d="M323.11,210.10H330.44" fill="none" stroke="rgba(255,255,255,0.85)" stroke-width="1.2"/><rect x="333.29" y="237.50" width="7.33" height="112.00" fill="rgba(70,155,222,0.45)"/><path d="M333.79,349.50V238.10M340.12,238.10V349.50" fill="none" stroke="rgba(255,255,255,0.5)" stroke-width="1"/><path d="M333.29,238.10H340.62" fill="none" stroke="rgba(255,255,255,0.85)" stroke-width="1.2"/><rect x="343.48" y="290.00" width="7.33" height="59.50" fill="rgba(70,155,222,0.45)"/><path d="M343.98,349.50V290.60M350.31,290.60V349.50" fill="none" stroke="rgba(255,255,255,0.5)" stroke-width="1"/><path d="M343.48,290.60H350.81" fill="none" stroke="rgba(255,255,255,0.85)" stroke-width="1.2"/><rect x="353.66" y="220.00" width="7.33" height="129.50" fill="rgba(70,155,222,0.45)"/><path d="M354.16,349.50V220.60M360.49,220.60V349.50" fill="none" stroke="rgba(255,255,255,0.5)" stroke-width="1"/><path d="M353.66,220.60H360.99" fill="none" stroke="rgba(255,255,255,0.85)" stroke-width="1.2"/><rect x="363.85" y="300.50" width="7.33" height="49.00" fill="rgba(70,155,222,0.45)"/><path d="M364.35,349.50V301.10M370.68,301.10V349.50" fill="none" stroke="rgba(255,255,255,0.5)" stroke-width="1"/><path d="M363.85,301.10H371.18" fill="none" stroke="rgba(255,255,255,0.85)" stroke-width="1.2"/><rect x="374.03" y="291.75" width="7.33" height="57.75" fill="rgba(70,155,222,0.45)"/><path d="M374.53,349.50V292.35M380.86,292.35V349.50" fill="none" stroke="rgba(255,255,255,0.5)" stroke-width="1"/><path d="M374.03,292.35H381.36" fill="none" stroke="rgba(255,255,255,0.85)" stroke-width="1.2"/><rect x="384.22" y="209.50" width="7.33" height="140.00" fill="rgba(70,155,222,0.45)"/><path d="M384.72,349.50V210.10M391.05,210.10V349.50" fill="none" stroke="rgba(255,255,255,0.5)" stroke-width="1"/><path d="M384.22,210.10H391.55" fill="none" stroke="rgba(255,255,255,0.85)" stroke-width="1.2"/><rect x="394.40" y="262.00" width="7.33" height="87.50" fill="rgba(70,155,222,0.45)"/><path d="M394.90,349.50V262.60M401.23,262.60V349.50" fill="none" stroke="rgba(255,255,255,0.5)" stroke-width="1"/><path d="M394.40,262.60H401.73" fill="none" stroke="rgba(255,255,255,0.85)" stroke-width="1.2"/><rect x="404.59" y="220.00" width="7.33" height="129.50" fill="rgba(70,155,222,0.45)"/><path d="M405.09,349.50V220.60M411.42,220.60V349.50" fill="none" stroke="rgba(255,255,255,0.5)" stroke-width="1"/><path d="M404.59,220.60H411.92" fill="none" stroke="rgba(255,255,255,0.85)" stroke-width="1.2"/><rect x="414.77" y="293.50" width="7.33" height="56.00" fill="rgba(70,155,222,0.45)"/><path d="M415.27,349.50V294.10M421.60,294.10V349.50" fill="none" stroke="rgba(255,255,255,0.5)" stroke-width="1"/><path d="M414.77,294.10H422.10" fill="none" stroke="rgba(255,255,255,0.85)" stroke-width="1.2"/><rect x="424.96" y="209.50" width="7.33" height="140.00" fill="rgba(70,155,222,0.45)"/><path d="M425.46,349.50V210.10M431.79,210.10V349.50" fill="none" stroke="rgba(255,255,255,0.5)" stroke-width="1"/><path d="M424.96,210.10H432.29" fill="none" stroke="rgba(255,255,255,0.85)" stroke-width="1.2"/><rect x="435.14" y="237.50" width="7.33" height="112.00" fill="rgba(70,155,222,0.45)"/><path d="M435.64,349.50V238.10M441.97,238.10V349.50" fill="none" stroke="rgba(255,255,255,0.5)" stroke-width="1"/><path d="M435.14,238.10H442.47" fill="none" stroke="rgba(255,255,255,0.85)" stroke-width="1.2"/><rect x="445.33" y="349.50" width="7.33" height="0.00" fill="rgba(70,155,222,0.45)"/><rect x="455.51" y="220.00" width="7.33" height="129.50" fill="rgba(70,155,222,0.45)"/><path d="M456.01,349.50V220.60M462.34,220.60V349.50" fill="none" stroke="rgba(255,255,255,0.5)" stroke-width="1"/><path d="M455.51,220.60H462.84" fill="none" stroke="rgba(255,255,255,0.85)" stroke-width="1.2"/><rect x="465.70" y="300.50" width="7.33" height="49.00" fill="rgba(70,155,222,0.45)"/><path d="M466.20,349.50V301.10M472.53,301.10V349.50" fill="none" stroke="rgba(255,255,255,0.5)" stroke-width="1"/><path d="M465.70,301.10H473.03" fill="none" stroke="rgba(255,255,255,0.85)" stroke-width="1.2"/><rect x="475.88" y="291.75" width="7.33" height="57.75" fill="rgba(70,155,222,0.45)"/><path d="M476.38,349.50V292.35M482.71,292.35V349.50" fill="none" stroke="rgba(255,255,255,0.5)" stroke-width="1"/><path d="M475.88,292.35H483.21" fill="none" stroke="rgba(255,255,255,0.85)" stroke-width="1.2"/><rect x="486.07" y="209.50" width="7.33" height="140.00" fill="rgba(70,155,222,0.45)"/><path d="M486.57,349.50V210.10M492.90,210.10V349.50" fill="none" stroke="rgba(255,255,255,0.5)" stroke-width="1"/><path d="M486.07,210.10H493.40" fill="none" stroke="rgba(255,255,255,0.85)" stroke-width="1.2"/><rect x="496.25" y="262.00" width="7.33" height="87.50" fill="rgba(70,155,222,0.45)"/><path d="M496.75,349.50V262.60M503.08,262.60V349.50" fill="none" stroke="rgba(255,255,255,0.5)" stroke-width="1"/><path d="M496.25,262.60H503.58" fill="none" stroke="rgba(255,255,255,0.85)" stroke-width="1.2"/><rect x="506.44" y="220.00" width="7.33" height="129.50" fill="rgba(70,155,222,0.45)"/><path d="M506.94,349.50V220.60M513.27,220.60V349.50" fill="none" stroke="rgba(255,255,255,0.5)" stroke-width="1"/><path d="M506.44,220.60H513.77" fill="none" stroke="rgba(255,255,255,0.85)" stroke-width="1.2"/><rect x="516.62" y="293.50" width="7.33" height="56.00" fill="rgba(70,155,222,0.45)"/><path d="M517.12,349.50V294.10M523.45,294.10V349.50" fill="none" stroke="rgba(255,255,255,0.5)" stroke-width="1"/><path d="M516.62,294.10H523.95" fill="none" stroke="rgba(255,255,255,0.85)" stroke-width="1.2"/><rect x="526.81" y="209.50" width="7.33" height="140.00" fill="rgba(70,155,222,0.45)"/><path d="M527.31,349.50V210.10M533.64,210.10V349.50" fill="none" stroke="rgba(255,255,255,0.5)" stroke-width="1"/><path d="M526.81,210.10H534.14" fill="none" stroke="rgba(255,255,255,0.85)" stroke-width="1.2"/><rect x="536.99" y="237.50" width="7.33" height="112.00" fill="rgba(70,155,222,0.45)"/><path d="M537.49,349.50V238.10M543.82,238.10V349.50" fill="none" stroke="rgba(255,255,255,0.5)" stroke-width="1"/><path d="M536.99,238.10H544.32" fill="none" stroke="rgba(255,255,255,0.85)" stroke-width="1.2"/><rect x="547.18" y="290.00" width="7.33" height="59.50" fill="rgba(70,155,222,0.45)"/><path d="M547.68,349.50V290.60M554.01,290.60V349.50" fill="none" stroke="rgba(255,255,255,0.5)" stroke-width="1"/><path d="M547.18,290.60H554.51" fill="none" stroke="rgba(255,255,255,0.85)" stroke-width="1.2"/><rect x="557.36" y="220.00" width="7.33" height="129.50" fill="rgba(70,155,222,0.45)"/><path d="M557.86,349.50V220.60M564.19,220.60V349.50" fill="none" stroke="rgba(255,255,255,0.5)" stroke-width="1"/><path d="M557.36,220.60H564.69" fill="none" stroke="rgba(255,255,255,0.85)" stroke-width="1.2"/><rect x="567.55" y="300.50" width="7.33" height="49.00" fill="rgba(70,155,222,0.45)"/><path d="M568.05,349.50V301.10M574.38,301.10V349.50" fill="none" stroke="rgba(255,255,255,0.5)" stroke-width="1"/><path d="M567.55,301.10H574.88" fill="none" stroke="rgba(255,255,255,0.85)" stroke-width="1.2"/><rect x="577.73" y="291.75" width="7.33" height="57.75" fill="rgba(70,155,222,0.45)"/><path d="M578.23,349.50V292.35M584.56,292.35V349.50" fill="none" stroke="rgba(255,255,255,0.5)" stroke-width="1"/><path d="M577.73,292.35H585.06" fill="none" stroke="rgba(255,255,255,0.85)" stroke-width="1.2"/><rect x="587.92" y="209.50" width="7.33" height="140.00" fill="rgba(70,155,222,0.45)"/><path d="M588.42,349.50V210.10M594.75,210.10V349.50" fill="none" stroke="rgba(255,255,255,0.5)" stroke-width="1"/><path d="M587.92,210.10H595.25" fill="none" stroke="rgba(255,255,255,0.85)" stroke-width="1.2"/><rect x="598.10" y="262.00" width="7.33" height="87.50" fill="rgba(70,155,222,0.45)"/><path d="M598.60,349.50V262.60M604.93,262.60V349.50" fill="none" stroke="rgba(255,255,255,0.5)" stroke-width="1"/><path d="M598.10,262.60H605.43" fill="none" stroke="rgba(255,255,255,0.85)" stroke-width="1.2"/><rect x="608.29" y="220.00" width="7.33" height="129.50" fill="rgba(70,155,222,0.45)"/><path d="M608.79,349.50V220.60M615.12,220.60V349.50" fill="none" stroke="rgba(255,255,255,0.5)" stroke-width="1"/><path d="M608.29,220.60H615.62" fill="none" stroke="rgba(255,255,255,0.85)" stroke-width="1.2"/><rect x="618.47" y="293.50" width="7.33" height="56.00" fill="rgba(70,155,222,0.45)"/><path d="M618.97,349.50V294.10M625.30,294.10V349.50" fill="none" stroke="rgba(255,255,255,0.5)" stroke-width="1"/><path d="M618.47,294.10H625.80" fill="none" stroke="rgba(255,255,255,0.85)" stroke-width="1.2"/><rect x="628.66" y="209.50" width="7.33" height="140.00" fill="rgba(70,155,222,0.45)"/><path d="M629.16,349.50V210.10M635.49,210.10V349.50" fill="none" stroke="rgba(255,255,255,0.5)" stroke-width="1"/><path d="M628.66,210.10H635.99" fill="none" stroke="rgba(255,255,255,0.85)" stroke-width="1.2"/><rect x="638.84" y="47.62" width="7.33" height="301.88" fill="rgba(70,155,222,0.45)"/><path d="M639.34,349.50V48.23M645.67,48.23V349.50" fill="none" stroke="rgba(255,255,255,0.5)" stroke-width="1"/><path d="M638.84,48.23H646.17" fill="none" stroke="rgba(255,255,255,0.85)" stroke-width="1.2"/><line x1="36.5" y1="34.5" x2="36.5" y2="357.5" stroke="#b0b0b0" stroke-width="1"/><line x1="28.5" y1="349.50" x2="647.6" y2="349.50" stroke="#b0b0b0" stroke-width="1"/><rect x="150.0" y="12.0" width="40" height="12" fill="#acd7f6"/><text x="196.0" y="20.6" font-family='"Liberation Sans", sans-serif' font-size="12" fill="#666">Now 758 Watt</text><rect x="327.5" y="12.0" width="40" height="12" fill="#e8e2e4" stroke="#d8687d" stroke-width="3"/><text x="374.0" y="20.6" font-family='"Liberation Sans", sans-serif' font-size="12" fill="#666">Month Sum 172.49 kWh</text></svg>
</div>
</body></html>
